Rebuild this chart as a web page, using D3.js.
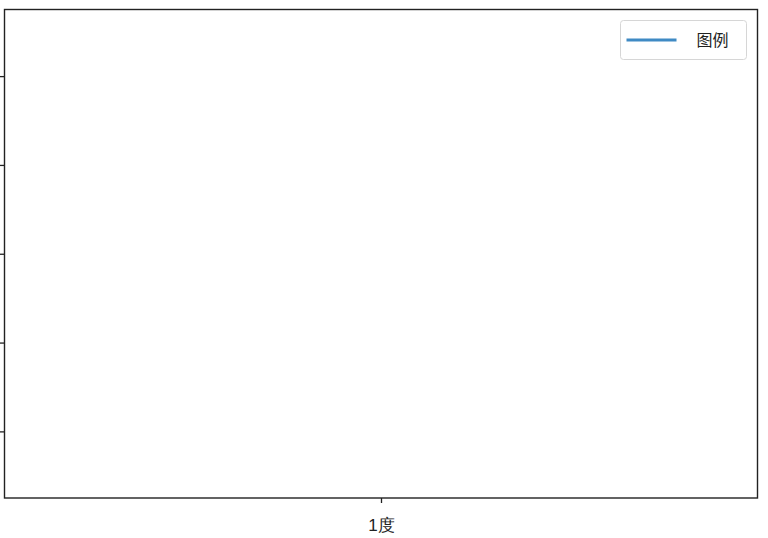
<!DOCTYPE html>
<html>
<head>
<meta charset="utf-8">
<script src="https://cdn.jsdelivr.net/npm/d3@7"></script>
<style>
  body { margin: 0; background: #fff; }
  svg { display: block; font-family: "Noto Sans CJK SC", "DejaVu Sans", sans-serif; }
</style>
</head>
<body>
<script>
// chart data
var categories = ["1度"];
var values = [0];
var seriesName = "图例";
var yTicks = [-0.04, -0.02, 0, 0.02, 0.04];

var width = 768, height = 538;
var margin = {top: 9.5, right: 10.5, bottom: 40, left: 4.5};
var w = width - margin.left - margin.right;
var h = height - margin.top - margin.bottom;

var svg = d3.select("body").append("svg")
    .attr("width", width)
    .attr("height", height);

var g = svg.append("g")
    .attr("transform", "translate(" + margin.left + "," + margin.top + ")");

var x = d3.scalePoint().domain(categories).range([0, w]).padding(0.5);
var y = d3.scaleLinear().domain([-0.055, 0.055]).range([h, 0]);

// line (one point, so nothing visible)
var line = d3.line()
    .x(function (d, i) { return x(categories[i]); })
    .y(function (d) { return y(d); });

g.append("path")
    .datum(values)
    .attr("d", line)
    .attr("fill", "none")
    .attr("stroke", "#1f77b4")
    .attr("stroke-width", 2.2);

// axes (y labels sit outside the window in the original, so none drawn)
var xAxis = g.append("g")
    .attr("transform", "translate(0," + h + ")")
    .call(d3.axisBottom(x).tickSize(5).tickPadding(16));

var yAxis = g.append("g")
    .call(d3.axisLeft(y).tickValues(yTicks).tickSize(5).tickFormat(""));

[xAxis, yAxis].forEach(function (a) {
    a.select(".domain").remove();
    a.selectAll(".tick line").attr("stroke", "#222").attr("stroke-width", 1.3);
    a.selectAll(".tick text").attr("fill", "#222").style("font-size", "17px");
});

// frame
g.append("rect")
    .attr("width", w)
    .attr("height", h)
    .attr("fill", "none")
    .attr("stroke", "#222")
    .attr("stroke-width", 1.4);

// legend
var legend = svg.append("g").attr("transform", "translate(620.5,20.5)");
legend.append("rect")
    .attr("width", 126)
    .attr("height", 39)
    .attr("rx", 3)
    .attr("fill", "#fff")
    .attr("stroke", "#d6d6d6")
    .attr("stroke-width", 1);
legend.append("line")
    .attr("x1", 6).attr("x2", 56)
    .attr("y1", 19.5).attr("y2", 19.5)
    .attr("stroke", "#3f8ac4")
    .attr("stroke-width", 2.8);
legend.append("text")
    .attr("x", 76)
    .attr("y", 25)
    .attr("fill", "#222")
    .style("font-size", "16px")
    .text(seriesName);
</script>
</body>
</html>
